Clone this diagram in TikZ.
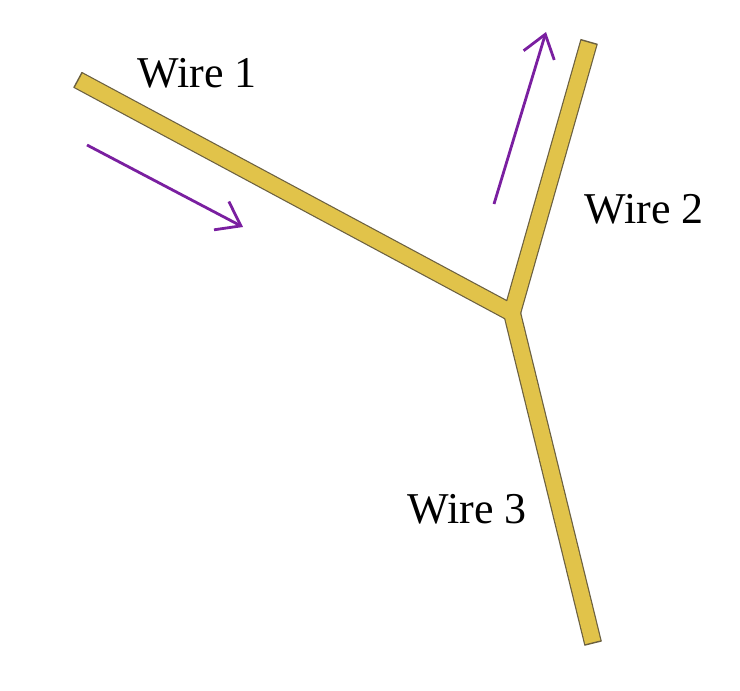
\documentclass[tikz,border=0pt]{standalone}
\usepackage{fontspec}
\setmainfont{Liberation Serif}
\usetikzlibrary{arrows.meta,calc,positioning}
\definecolor{wiregold}{HTML}{E1C34A}
\definecolor{wireedge}{HTML}{6B6040}
\definecolor{flowpurple}{HTML}{7A1FA0}
\tikzset{
  wireout/.style={line width=9pt, draw=wireedge, line cap=butt, line join=miter},
  wirein/.style={line width=7.8pt, draw=wiregold, line cap=butt, line join=miter},
  wirecap/.style={line width=0.7pt, draw=wireedge},
  flow/.style={line width=1.4pt, draw=flowpurple, -{Straight Barb[length=11pt,width=16pt,line width=1.4pt]}},
  wirelabel/.style={font=\fontsize{22}{26}\selectfont, inner sep=0pt}
}
\begin{document}
\begin{tikzpicture}[x=0.5pt,y=-0.5pt]
		\useasboundingbox (0,0) rectangle (740,691);
		\coordinate (w1) at (78,80);
		\coordinate (w2) at (589,42);
		\coordinate (w3) at (593,643);
		\coordinate (jn) at (512,313);
		% wires
		\draw [wireout] (w1) -- (jn) -- (w2);
		\draw [wireout] (jn) -- (w3);
		\draw [wirein] (w1) -- (jn) -- (w2);
		\draw [wirein] (jn) -- (w3);
		% end caps
		\draw [wirecap] ($(w1)!4.4pt!90:(jn)$) -- ($(w1)!4.4pt!-90:(jn)$);
		\draw [wirecap] ($(w2)!4.4pt!90:(jn)$) -- ($(w2)!4.4pt!-90:(jn)$);
		\draw [wirecap] ($(w3)!4.4pt!90:(jn)$) -- ($(w3)!4.4pt!-90:(jn)$);
		% current directions
		\coordinate (a1) at (87,145);
		\coordinate (b1) at (243,227);
		\coordinate (a2) at (494,204);
		\coordinate (b2) at (546,32);
		\draw [flow] (a1) -- (b1);
		\draw [flow] (a2) -- (b2);
		% labels
		\node [wirelabel] (lab1) at (197,73) {Wire 1};
		\node [wirelabel] (lab2) at (644,209) {Wire 2};
		\node [wirelabel] (lab3) at (467,509) {Wire 3};
	\end{tikzpicture}
\end{document}
